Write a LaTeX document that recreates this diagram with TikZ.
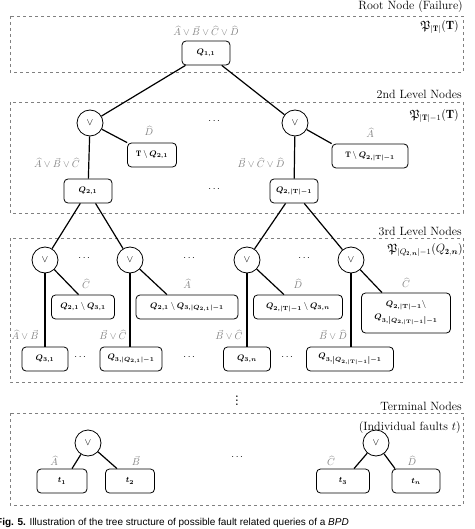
\documentclass[tikz,border=0pt]{standalone}
\usepackage{amsmath,amssymb,bm}
\usepackage{fontspec}
\newfontfamily\capfont{Liberation Sans}
\begin{document}
\begin{tikzpicture}[x=1pt,y=-1pt,
  q/.style={draw,thick,rounded corners=4pt,minimum height=24pt,inner sep=2pt,font=\footnotesize},
  o/.style={draw,circle,thick,minimum size=26pt,inner sep=0pt,fill=white},
  lab/.style={text=gray,font=\normalsize},
  grp/.style={draw=gray,dashed},
  hd/.style={anchor=east,font=\large,inner sep=1pt},
  e/.style={very thick}]
\useasboundingbox (0,0) rectangle (474,529);
\clip (0,0) rectangle (474,529);
% boxes
\draw[grp] (10,16) rectangle (463,72);
\draw[grp] (10,102) rectangle (463,213);
\draw[grp] (10,238) rectangle (463,382);
\draw[grp] (10,413) rectangle (463,505);
\node[hd] (h1) at (464,7) {Root Node (Failure)};
\node[hd] (p1) at (460,27) {$\mathfrak{P}_{|\mathbf{T}|}(\mathbf{T})$};
\node[hd] (h2) at (463,94) {2nd Level Nodes};
\node[hd] (p2) at (460,116) {$\mathfrak{P}_{|\mathbf{T}|-1}(\mathbf{T})$};
\node[hd] (h3) at (463,231) {3rd Level Nodes};
\node[hd] (p3) at (464,250) {$\mathfrak{P}_{|Q_{\mathbf{2},\bm{n}}|-1}(Q_{\mathbf{2},\bm{n}})$};
\node[hd] (h4) at (463,406) {Terminal Nodes};
\node[hd] (p4) at (462,428) {(Individual faults $t$)};
% level 1
\node[q,minimum width=48pt] (q11) at (206,53) {$\bm{Q_{1,1}}$};
\node[lab] (l11) at (206,31) {$\widehat{A}\vee\vec{B}\vee\widehat{C}\vee\widehat{D}$};
% level 2
\node[o] (o1) at (90,123) {$\vee$};
\node[o] (o2) at (295,123) {$\vee$};
\node (d1) at (215,121) {$\cdots$};
\node (d2) at (215,189) {$\cdots$};
\node[q,minimum width=49pt] (s1) at (152,155) {$\mathbf{T}\setminus\bm{Q_{2,1}}$};
\node[lab] (ls1) at (149,131) {$\widehat{D}$};
\node[q,minimum width=76pt] (s2) at (370,156) {$\mathbf{T}\setminus\bm{Q_{2,|\mathbf{T}|-1}}$};
\node[lab] (ls2) at (370,133) {$\widehat{A}$};
\node[q,minimum width=48pt] (q21) at (88,191) {$\bm{Q_{2,1}}$};
\node[lab] (l21) at (57,163) {$\widehat{A}\vee\vec{B}\vee\widehat{C}$};
\node[q,minimum width=48pt] (q2t) at (294,191) {$\bm{Q_{2,|\mathbf{T}|-1}}$};
\node[lab] (l2t) at (261,163) {$\vec{B}\vee\widehat{C}\vee\widehat{D}$};
\draw[e] (q11) -- (o1); \draw[e] (q11) -- (o2);
\draw[e] (o1) -- (q21); \draw[e] (o1) -- (s1.north west);
\draw[e] (o2) -- (q2t); \draw[e] (o2) -- (s2.north west);
% level 3
\node[o] (o3) at (45,260) {$\vee$};
\node[o] (o4) at (130,260) {$\vee$};
\node[o] (o5) at (247,260) {$\vee$};
\node[o] (o6) at (351,260) {$\vee$};
\node (d3) at (85,258) {$\cdots$};
\node (d4) at (190,258) {$\cdots$};
\node (d5) at (305,258) {$\cdots$};
\node[q,minimum width=63pt] (s3) at (83,307) {$\bm{Q_{2,1}}\setminus\bm{Q_{3,1}}$};
\node[q,minimum width=102pt] (s4) at (187,307) {$\bm{Q_{2,1}}\setminus\bm{Q_{3,|Q_{2,1}|-1}}$};
\node[q,minimum width=89pt] (s5) at (298,307) {$\bm{Q_{2,|\mathbf{T}|-1}}\setminus\bm{Q_{3,n}}$};
\node[q,minimum width=89pt,minimum height=40pt,align=center] (s6) at (406,313) {$\bm{Q_{2,|\mathbf{T}|-1}}\setminus$\\[3pt]$\bm{Q_{3,\left|Q_{2,|\mathbf{T}|-1}\right|-1}}$};
\node[lab] (ls3) at (86,284) {$\widehat{C}$};
\node[lab] (ls4) at (187,284) {$\widehat{A}$};
\node[lab] (ls5) at (298,284) {$\widehat{D}$};
\node[lab] (ls6) at (406,283) {$\widehat{C}$};
\node[q,minimum width=46pt] (q31) at (45,359) {$\bm{Q_{3,1}}$};
\node[q,minimum width=62pt] (q32) at (131,359) {$\bm{Q_{3,|Q_{2,1}|-1}}$};
\node[q,minimum width=47pt] (q33) at (247,359) {$\bm{Q_{3,n}}$};
\node[q,minimum width=87pt] (q34) at (350,359) {$\bm{Q_{3,\left|Q_{2,|\mathbf{T}|-1}\right|-1}}$};
\node[lab] (l31) at (25,335) {$\widehat{A}\vee\vec{B}$};
\node[lab] (l32) at (113,335) {$\vec{B}\vee\widehat{C}$};
\node[lab] (l33) at (229,335) {$\vec{B}\vee\widehat{C}$};
\node[lab] (l34) at (333,335) {$\vec{B}\vee\widehat{D}$};
\node (d6) at (81,357) {$\cdots$};
\node (d7) at (190,357) {$\cdots$};
\node (d8) at (288,357) {$\cdots$};
\draw[e] (q21) -- (o3); \draw[e] (q21) -- (o4);
\draw[e] (q2t) -- (o5); \draw[e] (q2t) -- (o6);
\draw[e] (o3) -- (q31.north -| o3); \draw[e] (o3) -- (ls3.south west |- s3.north);
\draw[e] (o4) -- (q32.north -| o4); \draw[e] (o4) -- ([xshift=-20pt]ls4.south |- s4.north);
\draw[e] (o5) -- (q33.north -| o5); \draw[e] (o5) -- ([xshift=-14pt]ls5.south |- s5.north);
\draw[e] (o6) -- (q34.north -| o6); \draw[e] (o6) -- ([xshift=-24pt]ls6.south |- s6.north);
\node[font=\bfseries] (vd) at (237,398) {$\vdots$};
% terminal
\node[o] (o7) at (88,443) {$\vee$};
\node[o] (o8) at (376,443) {$\vee$};
\node (d9) at (238,457) {$\cdots$};
\node[q,minimum width=50pt] (t1) at (62,481) {$\bm{t_1}$};
\node[q,minimum width=49pt] (t2) at (130,481) {$\bm{t_2}$};
\node[q,minimum width=53pt] (t3) at (343,481) {$\bm{t_3}$};
\node[q,minimum width=48pt] (tn) at (416,481) {$\bm{t_n}$};
\node[lab] (lt1) at (54,461) {$\widehat{A}$};
\node[lab] (lt2) at (136,461) {$\vec{B}$};
\node[lab] (lt3) at (331,461) {$\widehat{C}$};
\node[lab] (lt4) at (412,461) {$\widehat{D}$};
\draw[e] (o7) -- (t1.north -| 72,0); \draw[e] (o7) -- (t2.north -| 117,0);
\draw[e] (o8) -- (t3.north -| 354,0); \draw[e] (o8) -- (tn.north -| 395,0);
\node[anchor=west,font=\capfont\normalsize,inner sep=0pt] (cap) at (-4,523) {\textbf{Fig. 5.} Illustration of the tree structure of possible fault related queries of a \textit{BPD}};
\end{tikzpicture}
\end{document}
